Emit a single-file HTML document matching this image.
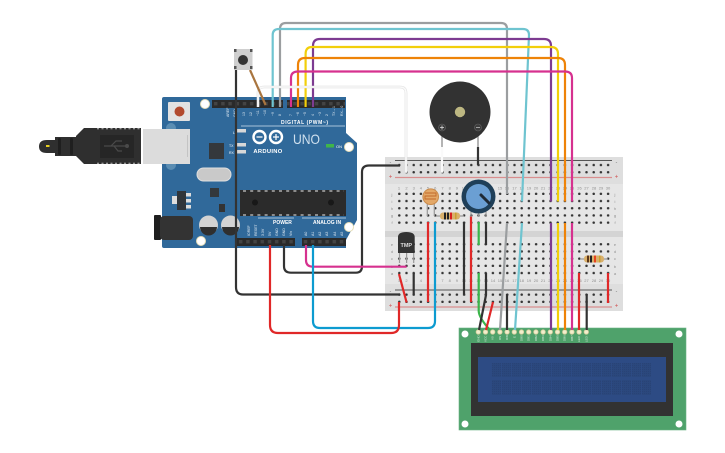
<!DOCTYPE html>
<html><head><meta charset="utf-8"><style>
html,body{margin:0;padding:0;background:#fff;width:725px;height:453px;overflow:hidden}
svg{display:block}
text{font-family:"Liberation Sans",sans-serif}
</style></head><body>
<svg width="725" height="453" viewBox="0 0 725 453" xmlns="http://www.w3.org/2000/svg">
<defs>
<pattern id="holes" patternUnits="userSpaceOnUse" x="395.7" y="161.4" width="7.2" height="7.2"><circle cx="3.6" cy="3.6" r="1.250" fill="#333"/></pattern>
<pattern id="hdr" patternUnits="userSpaceOnUse" x="212" y="100" width="7.2" height="8"><rect width="7.2" height="8" fill="#2a2a2a"/><rect x="2" y="2" width="3.4" height="3.4" fill="#444"/></pattern>
<pattern id="hdr2" patternUnits="userSpaceOnUse" x="237" y="238" width="7.2" height="8"><rect width="7.2" height="8" fill="#2a2a2a"/><rect x="2" y="2" width="3.4" height="3.4" fill="#444"/></pattern>
<pattern id="dots" patternUnits="userSpaceOnUse" x="492" y="363" width="2" height="2"><rect width="2" height="2" fill="#2b487d"/><rect width="1" height="1" fill="#294376"/></pattern>
</defs>

<!-- USB cable -->
<path d="M39,146.500 Q39,140 47,140 H55 V137 H76 V136 L84,128 H141 V164 H84 L76,156 H55 V153 H47 Q39,153 39,146.500Z" fill="#2f2f2f"/>
<rect x="100" y="135" width="34" height="23" fill="#262626"/>
<path d="M104,146 H126 M111,146 L116,141 H122 M114,146 L118,151 H122" stroke="#4a4a4a" stroke-width="1.200" fill="none"/><circle cx="127" cy="146" r="2" fill="#4a4a4a"/>
<rect x="58" y="138" width="3" height="17" rx="1.500" fill="#1f1f1f"/><rect x="70" y="138" width="3" height="17" rx="1.500" fill="#1f1f1f"/>
<rect x="46" y="145" width="3.500" height="2" fill="#e6cf20"/>
<path d="M97,128.700 H141 M97,163.300 H141" stroke="#bbb" stroke-width="1" stroke-dasharray="2 2.500"/>

<!-- Arduino -->
<path d="M164,97 H346 V133 L357,143 V220 L346,240 V248 H164 Q162,248 162,246 V99 Q162,97 164,97Z" fill="#30699a"/>
<circle cx="171" cy="128" r="5" fill="#5a8db3"/><circle cx="171" cy="165" r="5" fill="#5a8db3"/>
<rect x="143" y="129" width="47" height="35" fill="#dcdcdc"/>
<rect x="187" y="135" width="1" height="22" fill="#c4c4c4"/>
<rect x="168" y="102" width="22" height="19" rx="1" fill="#e2e2e2"/><circle cx="179.500" cy="111.500" r="5" fill="#b24a2e"/>
<circle cx="205" cy="104" r="4.500" fill="#fff" stroke="#e7dfb8" stroke-width="1"/>
<circle cx="349" cy="147" r="4.500" fill="#fff" stroke="#e7dfb8" stroke-width="1"/>
<circle cx="349" cy="227" r="4.500" fill="#fff" stroke="#e7dfb8" stroke-width="1"/>
<circle cx="201" cy="241" r="4.500" fill="#fff" stroke="#e7dfb8" stroke-width="1"/>
<rect x="212" y="100" width="71" height="8" fill="url(#hdr)"/>
<rect x="287" y="100" width="58" height="8" fill="url(#hdr)"/>
<rect x="237" y="238" width="58" height="8" fill="url(#hdr2)"/>
<rect x="302" y="238" width="44" height="8" fill="url(#hdr2)"/>
<rect x="209" y="143" width="15" height="16" fill="#34383c"/>
<rect x="237" y="129" width="9" height="3.500" fill="#d8d8d8"/><rect x="237" y="143" width="9" height="3.500" fill="#d8d8d8"/><rect x="237" y="150" width="9" height="3.500" fill="#d8d8d8"/>
<rect x="197" y="168" width="34" height="13" rx="6.500" fill="#c9c9c9" stroke="#dedede"/>
<rect x="210" y="188" width="9" height="9" fill="#33383c"/>
<rect x="177" y="191" width="9" height="19" fill="#30353a"/><rect x="186" y="193" width="5" height="3.500" fill="#ddd"/><rect x="186" y="199" width="5" height="3.500" fill="#ddd"/><rect x="186" y="205" width="5" height="3.500" fill="#ddd"/><rect x="172" y="196" width="5" height="8" fill="#ddd"/>
<rect x="219" y="204" width="6" height="8" fill="#333"/>
<rect x="240" y="190" width="106" height="26" fill="#2b2b2b"/>
<path d="M243,191 H344 M243,215 H344" stroke="#eee" stroke-width="1" stroke-dasharray="3 4.200"/>
<circle cx="255" cy="202.500" r="3" fill="#181818"/><circle cx="331" cy="202.500" r="3" fill="#181818"/>
<rect x="154" y="215" width="7" height="25" rx="1" fill="#1f1f1f"/><rect x="160" y="216" width="33" height="24" rx="4" fill="#333"/>
<path d="M199,225 a9.500,9.500 0 0 1 19,0 a9.500,9.500 0 0 1 -19,0Z" fill="#d3d3d3"/><path d="M200,227 h17 a8.500,8.500 0 0 1 -17,0Z" fill="#2f2f2f"/>
<path d="M221,225 a9.500,9.500 0 0 1 19,0 a9.500,9.500 0 0 1 -19,0Z" fill="#d3d3d3"/><path d="M222,227 h17 a8.500,8.500 0 0 1 -17,0Z" fill="#2f2f2f"/>
<g fill="none" stroke="#fff" stroke-width="2.400"><circle cx="259.500" cy="137" r="6"/><circle cx="276" cy="137" r="6"/></g>
<path d="M273,137 h6 M276,134 v6 M256.500,137 h6" stroke="#fff" stroke-width="1.200"/>
<text x="268" y="153" font-size="5.800" font-weight="bold" fill="#fff" text-anchor="middle" letter-spacing=".3">ARDUINO</text>
<text x="293" y="144" font-size="14" fill="#cfe0ee" textLength="27" lengthAdjust="spacingAndGlyphs">UNO</text>
<text x="281" y="124" font-size="5" font-weight="bold" fill="#fff" textLength="47">DIGITAL (PWM~)</text>
<path d="M241,126 H345" stroke="#cfe0ee" stroke-width=".7"/>
<rect x="326" y="144" width="8" height="3.500" fill="#3fb54a"/>
<text x="336" y="148" font-size="4" fill="#fff">ON</text>
<text x="233" y="134" font-size="3.500" fill="#fff">L</text><text x="229" y="147" font-size="3.500" fill="#fff">TX</text><text x="229" y="154" font-size="3.500" fill="#fff">RX</text>
<text x="273" y="224" font-size="5" font-weight="bold" fill="#fff">POWER</text>
<text x="313" y="224" font-size="5" font-weight="bold" fill="#fff">ANALOG IN</text>
<path d="M258,218 H294 M302,218 H346" stroke="#cfe0ee" stroke-width=".7"/>
<g font-size="3.500" fill="#dfe9f2">
<text transform="translate(229,117) rotate(-90)">AREF</text><text transform="translate(236,117) rotate(-90)">GND</text><text transform="translate(245,116) rotate(-90)">13</text><text transform="translate(252,116) rotate(-90)">12</text><text transform="translate(259,116) rotate(-90)">~11</text><text transform="translate(266,116) rotate(-90)">~10</text><text transform="translate(274,116) rotate(-90)">~9</text><text transform="translate(281,116) rotate(-90)">8</text>
<text transform="translate(292,116) rotate(-90)">7</text><text transform="translate(299,116) rotate(-90)">~6</text><text transform="translate(306,116) rotate(-90)">~5</text><text transform="translate(314,116) rotate(-90)">4</text><text transform="translate(321,116) rotate(-90)">~3</text><text transform="translate(328,116) rotate(-90)">2</text><text transform="translate(335,116) rotate(-90)">TX&#8594;1</text><text transform="translate(343,116) rotate(-90)">RX&#8592;0</text>
<text transform="translate(250,236) rotate(-90)">IOREF</text><text transform="translate(257,236) rotate(-90)">RESET</text><text transform="translate(264,236) rotate(-90)">3.3V</text><text transform="translate(271,236) rotate(-90)">5V</text><text transform="translate(278,236) rotate(-90)">GND</text><text transform="translate(285,236) rotate(-90)">GND</text><text transform="translate(292,236) rotate(-90)">Vin</text>
<text transform="translate(307,236) rotate(-90)">A0</text><text transform="translate(314,236) rotate(-90)">A1</text><text transform="translate(321,236) rotate(-90)">A2</text><text transform="translate(328,236) rotate(-90)">A3</text><text transform="translate(336,236) rotate(-90)">A4</text><text transform="translate(343,236) rotate(-90)">A5</text>
</g>

<!-- Breadboard -->
<rect x="385" y="157" width="238" height="154" fill="#e6e6e6"/>
<rect x="385" y="157" width="238" height="27" fill="#dedede"/>
<rect x="385" y="284" width="238" height="27" fill="#dedede"/>
<rect x="385" y="231" width="238" height="6" fill="#d4d4d4"/>
<path d="M395,160.500 H612 M395,290 H612" stroke="#555" stroke-width="1"/>
<path d="M395,177.500 H612 M395,307 H612" stroke="#d98e8e" stroke-width="1.300"/>
<rect x="395.700" y="161.400" width="216" height="14.400" fill="url(#holes)"/>
<rect x="395.700" y="190.400" width="216" height="36" fill="url(#holes)"/>
<rect x="395.700" y="240.800" width="216" height="36" fill="url(#holes)"/>
<rect x="395.700" y="290.600" width="216" height="14.400" fill="url(#holes)"/>
<g font-size="6" fill="#d05050" text-anchor="middle"><text x="390.500" y="178.500">+</text><text x="616.500" y="178.500">+</text><text x="390.500" y="307.500">+</text><text x="616.500" y="307.500">+</text></g>
<g font-size="5" fill="#666" text-anchor="middle"><text x="390.500" y="164">-</text><text x="616.500" y="164">-</text><text x="390.500" y="293">-</text><text x="616.500" y="293">-</text></g>
<g font-size="4" fill="#8f8f8f" text-anchor="middle">
<text y="189.500"><tspan x="399">1</tspan><tspan x="406.500">2</tspan><tspan x="413.700">3</tspan><tspan x="420.900">4</tspan><tspan x="428">5</tspan><tspan x="435.300">6</tspan><tspan x="442.500">7</tspan><tspan x="449.700">8</tspan><tspan x="456.900">9</tspan><tspan x="464">10</tspan><tspan x="500">15</tspan><tspan x="507">16</tspan><tspan x="514.500">17</tspan><tspan x="521.700">18</tspan><tspan x="529">19</tspan><tspan x="536">20</tspan><tspan x="543">21</tspan><tspan x="550.500">22</tspan><tspan x="558">23</tspan><tspan x="565">24</tspan><tspan x="572">25</tspan><tspan x="579.500">26</tspan><tspan x="586.500">27</tspan><tspan x="594">28</tspan><tspan x="601">29</tspan><tspan x="608">30</tspan></text>
<text y="282"><tspan x="399">1</tspan><tspan x="406.500">2</tspan><tspan x="413.700">3</tspan><tspan x="420.900">4</tspan><tspan x="428">5</tspan><tspan x="435.300">6</tspan><tspan x="442.500">7</tspan><tspan x="449.700">8</tspan><tspan x="456.900">9</tspan><tspan x="464">10</tspan><tspan x="471">11</tspan><tspan x="478.500">12</tspan><tspan x="486">13</tspan><tspan x="493">14</tspan><tspan x="500">15</tspan><tspan x="507">16</tspan><tspan x="514.500">17</tspan><tspan x="521.700">18</tspan><tspan x="529">19</tspan><tspan x="536">20</tspan><tspan x="543">21</tspan><tspan x="550.500">22</tspan><tspan x="558">23</tspan><tspan x="565">24</tspan><tspan x="572">25</tspan><tspan x="579.500">26</tspan><tspan x="586.500">27</tspan><tspan x="594">28</tspan><tspan x="601">29</tspan><tspan x="608">30</tspan></text>
<text x="392" y="196">j</text><text x="392" y="203">i</text><text x="392" y="210">h</text><text x="392" y="217">g</text><text x="392" y="224">f</text>
<text x="392" y="246">e</text><text x="392" y="253">d</text><text x="392" y="260">c</text><text x="392" y="268">b</text><text x="392" y="275">a</text>
<text x="615" y="196">j</text><text x="615" y="203">i</text><text x="615" y="210">h</text><text x="615" y="217">g</text><text x="615" y="224">f</text>
<text x="615" y="246">e</text><text x="615" y="253">d</text><text x="615" y="260">c</text><text x="615" y="268">b</text><text x="615" y="275">a</text>
</g>

<!-- Buzzer -->
<path d="M442,135 V147" stroke="#9a9a9a" stroke-width="1.500"/><path d="M478,135 V147" stroke="#9a9a9a" stroke-width="1.500"/>
<circle cx="460" cy="112" r="30.500" fill="#323232"/><circle cx="460" cy="112" r="5.200" fill="#bdb782"/>
<circle cx="442" cy="127.500" r="3.500" fill="#3c3c3c" stroke="#666" stroke-width=".6"/><path d="M440,127.500 h4 M442,125.500 v4" stroke="#ddd" stroke-width=".8"/>
<circle cx="478" cy="127.500" r="3.500" fill="#3c3c3c" stroke="#666" stroke-width=".6"/><path d="M476,127.500 h4" stroke="#bbb" stroke-width=".8"/>

<!-- LCD -->
<rect x="459" y="328" width="227" height="102" fill="#4fa26b" stroke="#6bb384" stroke-width=".6"/>
<circle cx="465" cy="334" r="3.500" fill="#fff"/><circle cx="679" cy="334" r="3.500" fill="#fff"/><circle cx="465" cy="424" r="3.500" fill="#fff"/><circle cx="679" cy="424" r="3.500" fill="#fff"/>
<rect x="471" y="343" width="202" height="73" fill="#323232"/>
<rect x="478" y="357" width="188" height="45" fill="#2d4b84"/>
<g fill="url(#dots)">
<rect x="492" y="363" width="9" height="14"/><rect x="502" y="363" width="9" height="14"/><rect x="512" y="363" width="9" height="14"/><rect x="522" y="363" width="9" height="14"/><rect x="532" y="363" width="9" height="14"/><rect x="542" y="363" width="9" height="14"/><rect x="552" y="363" width="9" height="14"/><rect x="562" y="363" width="9" height="14"/><rect x="572" y="363" width="9" height="14"/><rect x="582" y="363" width="9" height="14"/><rect x="592" y="363" width="9" height="14"/><rect x="602" y="363" width="9" height="14"/><rect x="612" y="363" width="9" height="14"/><rect x="622" y="363" width="9" height="14"/><rect x="632" y="363" width="9" height="14"/><rect x="642" y="363" width="9" height="14"/>
<rect x="492" y="380" width="9" height="15"/><rect x="502" y="380" width="9" height="15"/><rect x="512" y="380" width="9" height="15"/><rect x="522" y="380" width="9" height="15"/><rect x="532" y="380" width="9" height="15"/><rect x="542" y="380" width="9" height="15"/><rect x="552" y="380" width="9" height="15"/><rect x="562" y="380" width="9" height="15"/><rect x="572" y="380" width="9" height="15"/><rect x="582" y="380" width="9" height="15"/><rect x="592" y="380" width="9" height="15"/><rect x="602" y="380" width="9" height="15"/><rect x="612" y="380" width="9" height="15"/><rect x="622" y="380" width="9" height="15"/><rect x="632" y="380" width="9" height="15"/><rect x="642" y="380" width="9" height="15"/>
</g>
<g fill="#f3eecd" stroke="#d6cf9d" stroke-width=".8">
<circle cx="478.300" cy="332" r="2.200"/><circle cx="485.500" cy="332" r="2.200"/><circle cx="492.700" cy="332" r="2.200"/><circle cx="499.900" cy="332" r="2.200"/><circle cx="507.100" cy="332" r="2.200"/><circle cx="514.300" cy="332" r="2.200"/><circle cx="521.500" cy="332" r="2.200"/><circle cx="528.700" cy="332" r="2.200"/><circle cx="535.900" cy="332" r="2.200"/><circle cx="543.100" cy="332" r="2.200"/><circle cx="550.300" cy="332" r="2.200"/><circle cx="557.500" cy="332" r="2.200"/><circle cx="564.700" cy="332" r="2.200"/><circle cx="571.900" cy="332" r="2.200"/><circle cx="579.100" cy="332" r="2.200"/><circle cx="586.300" cy="332" r="2.200"/>
</g>
<g font-size="3" fill="#dcebdf">
<text transform="translate(479.300,342) rotate(-90)">GND</text><text transform="translate(486.500,342) rotate(-90)">VCC</text><text transform="translate(493.700,340) rotate(-90)">V0</text><text transform="translate(500.900,340) rotate(-90)">RS</text><text transform="translate(508.100,340) rotate(-90)">RW</text><text transform="translate(515.300,338) rotate(-90)">E</text><text transform="translate(522.500,341) rotate(-90)">DB0</text><text transform="translate(529.700,341) rotate(-90)">DB1</text><text transform="translate(536.900,341) rotate(-90)">DB2</text><text transform="translate(544.100,341) rotate(-90)">DB3</text><text transform="translate(551.300,341) rotate(-90)">DB4</text><text transform="translate(558.500,341) rotate(-90)">DB5</text><text transform="translate(565.700,341) rotate(-90)">DB6</text><text transform="translate(572.900,341) rotate(-90)">DB7</text><text transform="translate(580.100,342) rotate(-90)">LED</text><text transform="translate(587.300,342) rotate(-90)">LED</text>
</g>

<!-- Wires -->
<g fill="none" stroke-width="2.200" stroke-linecap="butt" stroke-linejoin="round">
<path d="M280,107 V29 Q280,23 286,23 H501 Q507,23 507,29 V194" stroke="#9b9ea0"/>
<path d="M272.700,107 V35 Q272.700,29 279,29 H523 Q529,29 529,35 L522,201.500" stroke="#6fc4d0"/>
<path d="M313,107 V46 Q313,39 320,39 H544 Q551,39 551,46 V201.500" stroke="#7d3b91"/>
<path d="M305.600,107 V54 Q305.600,47 312,47 H551 Q558,47 558,54 V201.500" stroke="#f2cf0a"/>
<path d="M298,107 V65 Q298,58 305,58 H558 Q565,58 565,65 V201.500" stroke="#ee8308"/>
<path d="M291,107 V78 Q291,71.500 298,71.500 H565 Q572,71.500 572,78 V201.500" stroke="#d6318f"/>
<path d="M258,107 V93 Q258,87 264,87 H400 Q406,87 406,93 V172.700" stroke="#dcdcdc" stroke-width="2.600"/>
<path d="M258,107 V93 Q258,87 264,87 H400 Q406,87 406,93 V172.700" stroke="#fafafa" stroke-width="1.600"/>
<path d="M442,147 V172.700" stroke="#fafafa"/>
<path d="M478,147 V165" stroke="#333"/>
<path d="M250,70 L265.600,105" stroke="#a9753f"/>
<path d="M236,70 V287 Q236,294.500 243,294.500 H400" stroke="#333"/>
<path d="M284,245 V266 Q284,272.700 291,272.700 H356 Q362,272.700 362,266 V172 Q362,165.500 369,165.500 H400" stroke="#333"/>
<path d="M306,245 V260 Q306,266.700 313,266.700 H406.600" stroke="#d6318f"/>
<path d="M313,245 V321 Q313,328 320,328 H428 Q435,328 435,321 V222" stroke="#0d9bd0"/>
<path d="M270,245 V325 Q270,333 278,333 H391 Q399,333 399,325 V302" stroke="#e02828"/>
<path d="M399,274 L406.600,302.500" stroke="#e02828"/>
<path d="M413.700,273 V294" stroke="#333"/>
<path d="M428,222 V302" stroke="#e02828"/>
<path d="M464,222 V294" stroke="#333"/>
<path d="M471,216 V302" stroke="#e02828"/>
<path d="M478.700,222 V245" stroke="#3bb54a"/>
<path d="M486,222 V245" stroke="#333"/>
<path d="M478.700,273 V311 Q479,318 490,330" stroke="#3bb54a"/>
<path d="M486,273 V295 L479,330" stroke="#333"/>
<path d="M493,302 L486,330" stroke="#e02828"/>
<path d="M507,223 L500,330" stroke="#9b9ea0"/>
<path d="M507,294 V330" stroke="#333"/>
<path d="M522,223 L515,330" stroke="#6fc4d0"/>
<path d="M551,223 V330" stroke="#7d3b91"/>
<path d="M558,223 V330" stroke="#f2cf0a"/>
<path d="M565,223 V330" stroke="#ee8308"/>
<path d="M572,223 V330" stroke="#d6318f"/>
<path d="M579,273 V330" stroke="#e02828"/>
<path d="M586.700,294 V330" stroke="#333"/>
<path d="M608,273 V303" stroke="#e02828"/>
</g>

<!-- Pushbutton -->
<rect x="234" y="49" width="18.500" height="21" fill="#cfcfcf"/>
<rect x="234" y="49" width="2.500" height="3" fill="#555"/><rect x="250" y="49" width="2.500" height="3" fill="#555"/><rect x="234" y="66" width="2.500" height="3" fill="#555"/><rect x="250" y="66" width="2.500" height="3" fill="#555"/>
<circle cx="243" cy="60" r="5" fill="#333"/>

<!-- LDR -->
<path d="M427.300,203 V216 M434.300,203 V216" stroke="#999" stroke-width="1.200"/>
<circle cx="430.700" cy="196.700" r="7.800" fill="#e3a868" stroke="#c98a4a" stroke-width="1"/>
<path d="M425,193 H436 V196 H425 V199 H436" fill="none" stroke="#c0682a" stroke-width=".9"/>

<!-- Resistors -->
<path d="M436,216 H464" stroke="#999" stroke-width="1.200"/>
<rect x="440" y="212.500" width="20" height="7" rx="3" fill="#d9b06b"/>
<rect x="444" y="212.500" width="2" height="7" fill="#222"/><rect x="447" y="212.500" width="2" height="7" fill="#222"/><rect x="450" y="212.500" width="2" height="7" fill="#d82020"/><rect x="455" y="212.500" width="1.500" height="7" fill="#c8a030"/>
<path d="M580,259 H608" stroke="#999" stroke-width="1.200"/>
<rect x="584" y="255.500" width="20" height="7" rx="3" fill="#d9b06b"/>
<rect x="587" y="255.500" width="2" height="7" fill="#5a3418"/><rect x="590" y="255.500" width="2" height="7" fill="#222"/><rect x="594" y="255.500" width="2" height="7" fill="#e8441e"/><rect x="599" y="255.500" width="1.500" height="7" fill="#c8a030"/>

<!-- Potentiometer -->
<path d="M471,210 V217 M478.700,210 V217 M486,210 V217" stroke="#999" stroke-width="1.200"/>
<circle cx="478.500" cy="196.500" r="17" fill="#1f3f58"/>
<circle cx="478.500" cy="196.500" r="12.500" fill="#6b9fd3"/>
<path d="M481,195 L489,203" stroke="#1f2a35" stroke-width="3" stroke-linecap="round"/>

<!-- TMP sensor -->
<path d="M399.500,252 V263 M406.600,252 V263 M413.700,252 V263" stroke="#999" stroke-width="1.200" fill="none"/>
<path d="M398,237 Q398,232 406.300,232 Q414.700,232 414.700,237 V253 H398Z" fill="#333"/>
<text x="406.300" y="247" font-size="5.500" font-weight="bold" fill="#ddd" text-anchor="middle">TMP</text>
</svg>
</body></html>
